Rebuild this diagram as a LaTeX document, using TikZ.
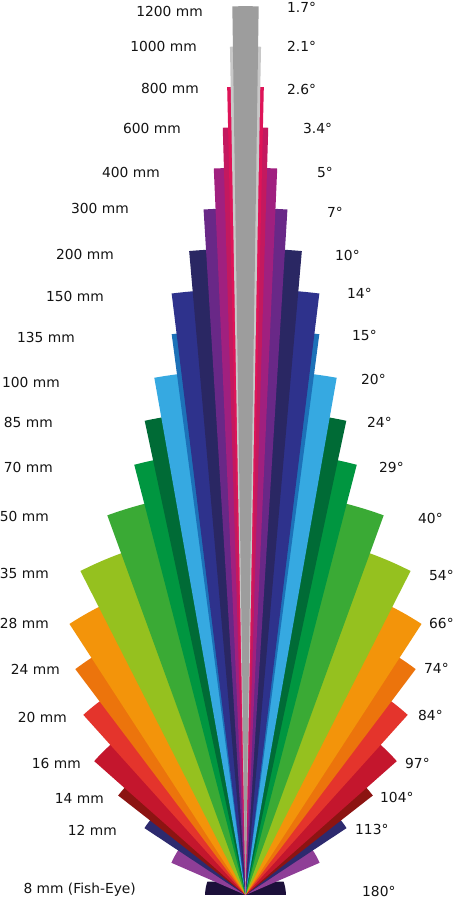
\documentclass[tikz,border=0pt]{standalone}
\usepackage{fontspec}
\setmainfont{DejaVu Sans}
\usetikzlibrary{calc}
\definecolor{cText}{RGB}{20,20,20}
\definecolor{cLens8}{RGB}{28,16,58}
\definecolor{cLens10}{RGB}{143,62,151}
\definecolor{cLens12}{RGB}{45,42,110}
\definecolor{cLens14}{RGB}{140,20,18}
\definecolor{cLens16}{RGB}{196,22,45}
\definecolor{cLens20}{RGB}{228,52,44}
\definecolor{cLens24}{RGB}{236,116,12}
\definecolor{cLens28}{RGB}{243,148,10}
\definecolor{cLens35}{RGB}{149,193,31}
\definecolor{cLens50}{RGB}{58,170,53}
\definecolor{cLens70}{RGB}{0,150,64}
\definecolor{cLens85}{RGB}{0,107,54}
\definecolor{cLens100}{RGB}{54,169,225}
\definecolor{cLens135}{RGB}{29,113,184}
\definecolor{cLens150}{RGB}{46,50,140}
\definecolor{cLens200}{RGB}{42,39,99}
\definecolor{cLens300}{RGB}{105,40,135}
\definecolor{cLens400}{RGB}{160,32,127}
\definecolor{cLens600}{RGB}{195,25,95}
\definecolor{cLens800}{RGB}{222,20,88}
\definecolor{cLens1000}{RGB}{200,200,200}
\definecolor{cLens1200}{RGB}{157,157,157}
\tikzset{
  %% focal length labels (left) and angle labels (right)
  mmlabel/.style={anchor=east, inner sep=0pt, text=cText,
                  font=\fontsize{13.8}{15}\selectfont},
  deglabel/.style={anchor=west, inner sep=0pt, text=cText,
                   font=\fontsize{13.8}{15}\selectfont},
}

\begin{document}
\begin{tikzpicture}[x=1pt, y=1pt]

\fill[white] (0,0) rectangle (453,900);
\useasboundingbox (0,0) rectangle (453,900);

%% ============================================================
%%  APEX of the fan, radius step between two lenses
%% ============================================================
\coordinate (V) at (245.5,5);
\def\Rstep{40.4}

%% ----- Fish-eye: flat strip of the half disk -----
\fill[cLens8] (V) ++(0:\Rstep) arc[start angle=0, end angle=19.2, radius=\Rstep]
  -- ([shift={(160.8:\Rstep)}]V) arc[start angle=160.8, end angle=180, radius=\Rstep]
  -- cycle;

%% ----- Sectors, widest first -----
\foreach \k/\fov/\col in {2/133/cLens10, 3/113/cLens12, 4/104/cLens14,
    5/97/cLens16, 6/84/cLens20, 7/74/cLens24, 8/66/cLens28, 9/54/cLens35,
    10/40/cLens50, 11/29/cLens70, 12/24/cLens85, 13/20/cLens100,
    14/15/cLens135, 15/14/cLens150, 16/10/cLens200, 17/7/cLens300,
    18/5/cLens400, 19/3.4/cLens600, 20/2.6/cLens800, 21/2.1/cLens1000,
    22/1.7/cLens1200} {
  \fill[\col] (V) -- ++({90+\fov/2}:{\k*\Rstep})
    arc[start angle={90+\fov/2}, end angle={90-\fov/2}, radius={\k*\Rstep}]
    -- cycle;
}

%% ============================================================
%%  Focal lengths (left)
%% ============================================================
\foreach \f/\xx/\yy in {1200/203/11, 1000/197/46, 800/199/88, 600/181/128,
    400/160/172, 300/129/208, 200/114/254, 150/104/296, 135/75/337,
    100/60/382, 85/53/422, 70/53/467, 50/49/516, 35/49/573, 28/49/623,
    24/60/669, 20/67/717, 16/81/763, 14/104/798, 12/117/830} {
  \node[mmlabel] (mm\f) at (\xx, 900-\yy) {\f{} mm};
}
\node[mmlabel] (mm8) at (136, 900-890) {8 mm (Fish-Eye)};

%% ============================================================
%%  Angles of view (right)
%% ============================================================
\foreach \a/\xx/\yy [count=\i] in {1.7/287/7, 2.1/287/46, 2.6/287/89,
    3.4/303/128, 5/317/172, 7/327/212, 10/335/255, 14/347/293, 15/352/335,
    20/361/379, 24/367/422, 29/379/467, 40/418/518, 54/429/575, 66/429/623,
    74/424/668, 84/418/715, 97/405/763, 104/380/797, 113/355/829,
    180/362/891} {
  \node[deglabel] (deg\i) at (\xx, 900-\yy) {\a°};
}

\end{tikzpicture}
\end{document}
